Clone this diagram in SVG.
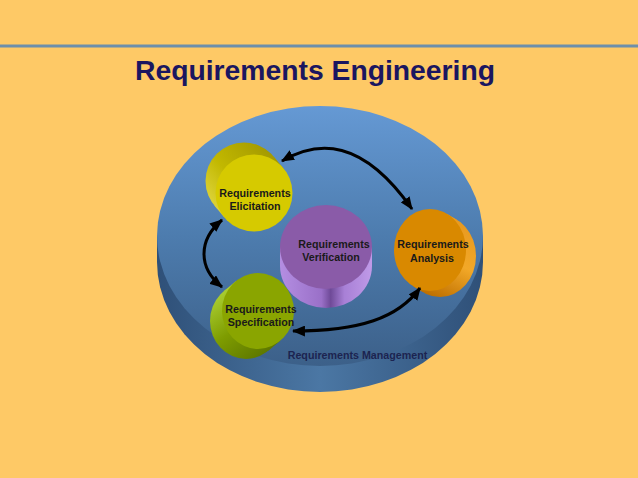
<svg xmlns="http://www.w3.org/2000/svg" width="638" height="478" viewBox="0 0 638 478">
<defs>
<style>
.lbl{font-family:"Liberation Sans",Arial,sans-serif;font-weight:bold;font-size:10.7px;fill:#1a1a1a;text-anchor:middle}
.conn{fill:none;stroke:#000;stroke-width:3;marker-start:url(#ah);marker-end:url(#ah)}
</style>
<marker id="ah" viewBox="0 0 12 10" refX="11" refY="5" markerWidth="13" markerHeight="11" markerUnits="userSpaceOnUse" orient="auto-start-reverse">
<path d="M0,0 L12,5 L0,10 Z" fill="#000"/>
</marker>
<linearGradient id="discTop" x1="0" y1="0" x2="0" y2="1">
<stop offset="0" stop-color="#6599d4"/>
<stop offset="0.5" stop-color="#4d7cae"/>
<stop offset="1" stop-color="#3c6089"/>
</linearGradient>
<linearGradient id="discSide" x1="0" y1="0" x2="1" y2="0">
<stop offset="0" stop-color="#2f5078"/>
<stop offset="0.5" stop-color="#4b77a4"/>
<stop offset="1" stop-color="#2f5078"/>
</linearGradient>
<linearGradient id="yelSide" gradientUnits="userSpaceOnUse" x1="274" y1="156" x2="214" y2="206">
<stop offset="0" stop-color="#a49a00"/>
<stop offset="0.6" stop-color="#c2b800"/>
<stop offset="1" stop-color="#dcd238"/>
</linearGradient>
<linearGradient id="grnSide" gradientUnits="userSpaceOnUse" x1="224" y1="291" x2="268" y2="351">
<stop offset="0" stop-color="#a8cc30"/>
<stop offset="0.5" stop-color="#7e9c00"/>
<stop offset="1" stop-color="#5e7800"/>
</linearGradient>
<linearGradient id="orgSide" gradientUnits="userSpaceOnUse" x1="457" y1="220" x2="423" y2="292">
<stop offset="0" stop-color="#e89a20"/>
<stop offset="0.5" stop-color="#f2a828"/>
<stop offset="1" stop-color="#bf7000"/>
</linearGradient>
<linearGradient id="purSide" x1="0" y1="0" x2="1" y2="0">
<stop offset="0" stop-color="#b48ee2"/>
<stop offset="0.45" stop-color="#9a70c8"/>
<stop offset="0.55" stop-color="#6f4a98"/>
<stop offset="0.7" stop-color="#a880d6"/>
<stop offset="1" stop-color="#c09ae8"/>
</linearGradient>
</defs>
<rect x="0" y="0" width="638" height="478" fill="#fec966"/>
<rect x="0" y="44.5" width="638" height="3" fill="#6d8fab"/>
<g id="title">
<text x="315" y="80" font-family="Liberation Sans, Arial, sans-serif" font-weight="bold" font-size="28.3" fill="#1b1660" text-anchor="middle">Requirements Engineering</text>
</g>
<g id="management">
<path d="M157,236 L157,262 A163 130 0 0 0 483,262 L483,236 Z" fill="url(#discSide)"/>
<ellipse cx="320" cy="236" rx="163" ry="130" fill="url(#discTop)"/>
<text x="357.5" y="359" class="lbl" style="fill:#1c2450">Requirements Management</text>
</g>
<g id="verification">
<path d="M280,247 L280,266 A46 42 0 0 0 372,266 L372,247 Z" fill="url(#purSide)"/>
<ellipse cx="326" cy="247" rx="46" ry="42" fill="#8a5ba8"/>
<text x="334" y="248" class="lbl">Requirements</text>
<text x="331" y="260.5" class="lbl">Verification</text>
</g>
<g id="elicitation">
<circle cx="244" cy="181" r="38.5" fill="url(#yelSide)"/>
<polygon points="283.6,168.4 273.6,156.4 214.4,205.6 224.4,217.6" fill="url(#yelSide)"/>
<circle cx="254" cy="193" r="38.5" fill="#d6ca00"/>
<text x="255" y="197" class="lbl">Requirements</text>
<text x="255" y="210" class="lbl">Elicitation</text>
</g>
<g id="specification">
<ellipse cx="246" cy="321" rx="36" ry="38" fill="url(#grnSide)"/>
<polygon points="280.3,340.8 268.3,350.8 223.7,291.2 235.7,281.2" fill="url(#grnSide)"/>
<ellipse cx="258" cy="311" rx="36" ry="38" fill="#8aa500"/>
<text x="261" y="313" class="lbl">Requirements</text>
<text x="261" y="325.5" class="lbl">Specification</text>
</g>
<g id="analysis">
<ellipse cx="440" cy="256" rx="36" ry="41" fill="url(#orgSide)"/>
<polygon points="446.8,213.7 456.8,219.7 423.2,292.3 413.2,286.3" fill="url(#orgSide)"/>
<ellipse cx="430" cy="250" rx="36" ry="41" fill="#d98900"/>
<text x="433" y="248" class="lbl">Requirements</text>
<text x="432" y="262" class="lbl">Analysis</text>
</g>
<g id="connectors">
<path class="conn" d="M282,161 C318,140 362,138 412,209"/>
<path class="conn" d="M222,220 C198,240 198,268 222,287"/>
<path class="conn" d="M293,331 C360,331 398,318 420,288"/>
</g>
</svg>
